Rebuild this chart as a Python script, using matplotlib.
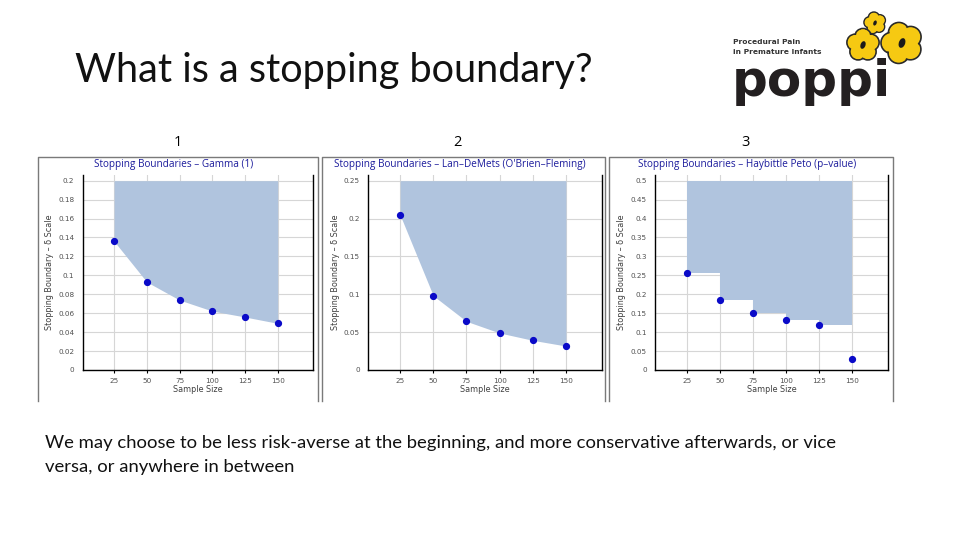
import numpy as np
import matplotlib.pyplot as plt
from matplotlib.patches import Circle, Ellipse

# Sample sizes at the interim looks
sample_size = [25, 50, 75, 100, 125, 150]

# Boundary values
gamma_bound = [0.136, 0.093, 0.0739, 0.0623, 0.056, 0.0493]
obf_bound = [0.2047, 0.0981, 0.0643, 0.0489, 0.0392, 0.0317]
peto_bound = [0.257, 0.184, 0.1505, 0.132, 0.118, 0.028]

titles = ["Stopping Boundaries \u2013 Gamma (1)",
          "Stopping Boundaries \u2013 Lan\u2013DeMets (O'Brien\u2013Fleming)",
          "Stopping Boundaries \u2013 Haybittle Peto (p\u2013value)"]
panel_numbers = ["1", "2", "3"]
y_tops = [0.2, 0.25, 0.5]
y_ticks = [np.round(np.arange(0, 0.2001, 0.02), 2),
           np.round(np.arange(0, 0.2501, 0.05), 2),
           np.round(np.arange(0, 0.5001, 0.05), 2)]

fill_col = "#b0c4de"
dot_col = "#0a0ac8"
title_col = "#1c1c9c"

fig = plt.figure(figsize=(9.6, 5.4), dpi=100)

# overlay in pixel units for the slide decorations
deco = fig.add_axes([0, 0, 1, 1], zorder=0)
deco.set_xlim(0, 960)
deco.set_ylim(540, 0)
deco.axis("off")

W, H = 960, 540
# (frame left, frame right, axes left, axes right) in pixels
panels = [(37.5, 318, 82.7, 313), (322, 605, 368.3, 601.7), (609, 893, 655, 887.7)]
num_x = [178, 457, 745]
ax_top, ax_bot = 175, 370

series = [gamma_bound, obf_bound, peto_bound]
for i, (fl, fr, al, ar) in enumerate(panels):
    # panel frame (cut at the bottom of the slide picture)
    deco.plot([fl, fl, fr, fr], [401, 157, 157, 401], color="#7a7a7a", lw=1.0)
    deco.text((fl + fr) / 2 - 4, 165, titles[i], color=title_col, fontsize=7.2,
              ha="center", va="center", family="Open Sans")
    deco.text(num_x[i], 143, panel_numbers[i], fontsize=10.5, ha="center", va="center",
              family="Open Sans")

    ax = fig.add_axes([al / W, 1 - ax_bot / H, (ar - al) / W, (ax_bot - ax_top) / H], zorder=2)
    ax.patch.set_alpha(0)
    top = y_tops[i]
    ax.set_xlim(1, 177)
    ax.set_ylim(0, top * 1.03)
    vals = series[i]
    if i == 2:
        ax.fill_between(sample_size, vals, top, step="post", color=fill_col, lw=0, zorder=1)
    else:
        ax.fill_between(sample_size, vals, top, color=fill_col, lw=0, zorder=1)
    ax.plot(sample_size, vals, "o", color=dot_col, ms=4.2, zorder=3)

    ax.set_xticks(sample_size)
    ax.set_yticks(y_ticks[i])
    ax.set_yticklabels([f"{v:g}" for v in y_ticks[i]])
    ax.grid(True, color="#d6d6d6", lw=0.8)
    ax.set_axisbelow(True)
    ax.spines["top"].set_visible(False)
    for s in ["left", "bottom", "right"]:
        ax.spines[s].set_color("black")
        ax.spines[s].set_linewidth(1.0)
    ax.tick_params(axis="both", labelsize=5.2, labelcolor="#505050", length=2.5,
                   width=0.8, pad=3)
    ax.tick_params(axis="y", length=0, pad=6)
    ax.set_xlabel("Sample Size", fontsize=5.8, color="#404040", labelpad=1)
    ax.set_ylabel("Stopping Boundary \u2013 \u03b4 Scale", fontsize=5.8, color="#404040",
                  labelpad=3)

# slide title and caption
deco.text(75, 82, "What is a stopping boundary?", fontsize=28.5, family="Lato",
          va="baseline", ha="left", color="#111111")
deco.text(45, 448, "We may choose to be less risk-averse at the beginning, and more "
          "conservative afterwards, or vice", fontsize=13.3, family="Lato",
          va="baseline", ha="left", color="#111111")
deco.text(45, 472, "versa, or anywhere in between", fontsize=13.3, family="Lato",
          va="baseline", ha="left", color="#111111")

# poppi logo
deco.text(733, 42, "Procedural Pain", fontsize=5.4, fontweight="bold", color="#333333",
          va="center", ha="left")
deco.text(733, 52, "in Premature Infants", fontsize=5.4, fontweight="bold", color="#333333",
          va="center", ha="left")
deco.text(732, 96, "poppi", fontsize=36, fontweight="bold", color="#231f20",
          va="baseline", ha="left", family="DejaVu Sans")

def flower(cx, cy, r, tilt):
    centres = []
    for k in range(5):
        a = np.pi / 2 + tilt + k * 2 * np.pi / 5
        centres.append((cx + 0.5 * r * np.cos(a), cy - 0.5 * r * np.sin(a)))
    for c in centres:
        deco.add_patch(Circle(c, 0.5 * r, facecolor="#f6c912", edgecolor="#2a2a2a", lw=1.2))
    for c in centres:
        deco.add_patch(Circle(c, 0.44 * r, facecolor="#f6c912", edgecolor="none"))
    deco.add_patch(Circle((cx, cy), 0.55 * r, facecolor="#f6c912", edgecolor="none"))
    deco.add_patch(Ellipse((cx, cy), 0.3 * r, 0.48 * r, angle=20,
                           facecolor="#1a1a1a", edgecolor="none"))

flower(875, 23, 11, 0.2)
flower(863, 45, 16.5, 0.0)
flower(902, 43, 21, 0.3)

fig.savefig("out.png", dpi=100)
